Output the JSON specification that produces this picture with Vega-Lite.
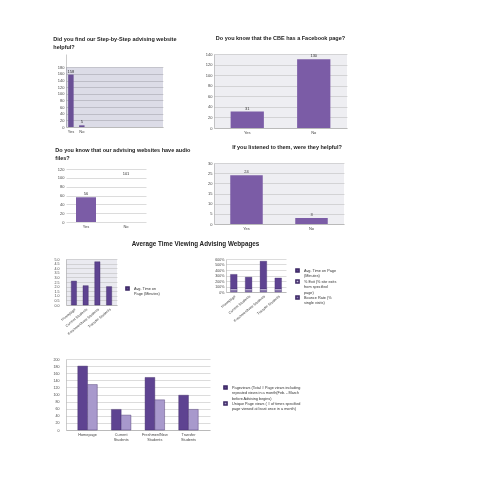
{
  "$schema": "https://vega.github.io/schema/vega-lite/v6.json",
  "background": "white",
  "padding": {"left": 53, "top": 35, "right": 5, "bottom": 5},
  "config": {
    "font": "Liberation Sans",
    "view": {"stroke": null},
    "axis": {"labelFontSize": 4, "labelColor": "#444", "ticks": false, "domainColor": "#999", "domainWidth": 0.5, "gridColor": "#b8b8b8", "gridWidth": 0.5, "labelPadding": 2},
    "title": {"fontSize": 5.5, "fontWeight": "bold", "color": "#222", "font": "Liberation Sans"},
    "legend": {"labelFontSize": 3.8, "symbolSize": 10, "symbolType": "square", "labelColor": "#333", "rowPadding": 0}
  },
  "spacing": 21,
  "vconcat": [
    {
      "spacing": 10,
      "vconcat": [
        {
          "spacing": 28,
          "hconcat": [
            {
              "width": 97, "height": 73,
              "title": {"text": ["Did you find our Step-by-Step advising website", "helpful?"], "anchor": "start", "frame": "bounds", "offset": 4, "dx": -4},
              "data": {"values": [{"answer": "Yes", "count": 158}, {"answer": "No", "count": 5}]},
              "resolve": {"axis": {"y": "independent"}},
              "layer": [
                {
                  "mark": {"type": "bar", "color": "#7b5ca6"},
                  "encoding": {
                    "x": {"field": "answer", "type": "nominal", "sort": null, "scale": {"domain": ["Yes", "No", "s3", "s4", "s5", "s6", "s7", "s8", "s9"], "paddingInner": 0.5, "paddingOuter": 0.2}, "axis": {"labelAngle": 0, "title": null, "labelExpr": "datum.label == 'Yes' || datum.label == 'No' ? datum.label : ''"}},
                    "y": {"field": "count", "type": "quantitative", "scale": {"domain": [0, 208.6]}, "axis": {"orient": "left", "values": [0, 20, 40, 60, 80, 100, 120, 140, 160, 180], "title": null}}
                  }
                },
                {
                  "mark": {"type": "text", "dy": -3, "fontSize": 4, "color": "#333"},
                  "encoding": {
                    "x": {"field": "answer", "type": "nominal", "sort": null},
                    "y": {"field": "count", "type": "quantitative", "axis": null},
                    "text": {"field": "count"}
                  }
                },
                {
                  "mark": {"type": "rect", "color": "#ededf3", "blend": "multiply"},
                  "encoding": {
                    "y": {"datum": 0, "type": "quantitative", "axis": null},
                    "y2": {"datum": 180}
                  }
                }
              ]
            },
            {
              "width": 133, "height": 74,
              "title": {"text": "Do you know that the CBE has a Facebook page?", "anchor": "middle", "offset": 11},
              "view": {"fill": "#eeeef2"},
              "data": {"values": [{"answer": "Yes", "count": 31}, {"answer": "No", "count": 130}]},
              "encoding": {
                "x": {"field": "answer", "type": "nominal", "sort": null, "scale": {"paddingInner": 0.5, "paddingOuter": 0.25}, "axis": {"labelAngle": 0, "title": null}},
                "y": {"field": "count", "type": "quantitative", "scale": {"domain": [0, 140]}, "axis": {"values": [0, 20, 40, 60, 80, 100, 120, 140], "title": null}}
              },
              "layer": [
                {"mark": {"type": "bar", "color": "#7b5ca6"}},
                {"mark": {"type": "text", "dy": -3, "fontSize": 4, "color": "#333"}, "encoding": {"text": {"field": "count"}}}
              ]
            }
          ]
        },
        {
          "spacing": 16,
          "hconcat": [
            {
              "width": 80, "height": 59,
              "title": {"text": ["Do you know that our advising websites have audio", "files?"], "anchor": "start", "frame": "bounds", "offset": 2, "dx": -2},
              "data": {"values": [{"answer": "Yes", "count": 56}, {"answer": "No", "count": 101}]},
              "encoding": {
                "x": {"field": "answer", "type": "nominal", "sort": null, "scale": {"paddingInner": 0.5, "paddingOuter": 0.25}, "axis": {"labelAngle": 0, "title": null, "domain": false}},
                "y": {"field": "count", "type": "quantitative", "scale": {"domain": [0, 133.6]}, "axis": {"values": [0, 20, 40, 60, 80, 100, 120], "title": null, "domain": false}}
              },
              "layer": [
                {"transform": [{"filter": "datum.answer == 'Yes'"}], "mark": {"type": "bar", "color": "#7b5ca6"}},
                {"mark": {"type": "text", "dy": -3, "fontSize": 4, "color": "#333"}, "encoding": {"text": {"field": "count"}}}
              ]
            },
            {
              "width": 130, "height": 61,
              "title": {"text": "If you listened to them, were they helpful?", "anchor": "middle", "offset": 11, "dx": 8},
              "view": {"fill": "#eeeef2"},
              "data": {"values": [{"answer": "Yes", "count": 24}, {"answer": "No", "count": 3}]},
              "encoding": {
                "x": {"field": "answer", "type": "nominal", "sort": null, "scale": {"paddingInner": 0.5, "paddingOuter": 0.25}, "axis": {"labelAngle": 0, "title": null}},
                "y": {"field": "count", "type": "quantitative", "scale": {"domain": [0, 30]}, "axis": {"values": [0, 5, 10, 15, 20, 25, 30], "title": null}}
              },
              "layer": [
                {"mark": {"type": "bar", "color": "#7b5ca6"}},
                {"mark": {"type": "text", "dy": -3, "fontSize": 4, "color": "#333"}, "encoding": {"text": {"field": "count"}}}
              ]
            }
          ]
        },
        {
          "title": {"text": "Average Time Viewing Advising Webpages", "fontSize": 6.3, "anchor": "middle", "offset": 10},
          "spacing": 54,
          "resolve": {"scale": {"color": "independent"}, "legend": {"color": "independent"}},
          "hconcat": [
            {
              "width": 51, "height": 46,
              "view": {"fill": "#eaeaf0"},
              "data": {"values": [
                {"page": "Homepage", "series": "Avg. Time on Page (Minutes)", "minutes": 2.6},
                {"page": "Current Students", "series": "Avg. Time on Page (Minutes)", "minutes": 2.1},
                {"page": "Freshmen/New Students", "series": "Avg. Time on Page (Minutes)", "minutes": 4.7},
                {"page": "Transfer Students", "series": "Avg. Time on Page (Minutes)", "minutes": 2.0}
              ]},
              "mark": {"type": "bar", "stroke": "#3e2a66", "strokeWidth": 0.4},
              "encoding": {
                "x": {"field": "page", "type": "nominal", "sort": null, "scale": {"paddingInner": 0.55, "paddingOuter": 0.45}, "axis": {"labelAngle": -40, "title": null, "labelFontSize": 3.6}},
                "y": {"field": "minutes", "type": "quantitative", "scale": {"domain": [0, 5]}, "axis": {"values": [0, 0.5, 1, 1.5, 2, 2.5, 3, 3.5, 4, 4.5, 5], "title": null, "labelFontSize": 3.6, "labelPadding": 7}},
                "color": {"field": "series", "type": "nominal", "scale": {"range": ["#5e4391"]}, "legend": {"title": null, "orient": "none", "legendX": 59, "legendY": 27, "labelExpr": "datum.label == 'Avg. Time on Page (Minutes)' ? ['Avg. Time on', 'Page (Minutes)'] : datum.label"}}
              }
            },
            {
              "width": 60, "height": 33,
              "data": {"values": [
                {"page": "Homepage", "series": "Avg. Time on Page (Minutes)", "ord": 3, "pct": 265},
                {"page": "Homepage", "series": "% Exit (% site exits from specified page)", "ord": 2, "pct": 30},
                {"page": "Homepage", "series": "Bounce Rate (% single visits)", "ord": 1, "pct": 25},
                {"page": "Current Students", "series": "Avg. Time on Page (Minutes)", "ord": 3, "pct": 215},
                {"page": "Current Students", "series": "% Exit (% site exits from specified page)", "ord": 2, "pct": 30},
                {"page": "Current Students", "series": "Bounce Rate (% single visits)", "ord": 1, "pct": 25},
                {"page": "Freshmen/New Students", "series": "Avg. Time on Page (Minutes)", "ord": 3, "pct": 505},
                {"page": "Freshmen/New Students", "series": "% Exit (% site exits from specified page)", "ord": 2, "pct": 30},
                {"page": "Freshmen/New Students", "series": "Bounce Rate (% single visits)", "ord": 1, "pct": 25},
                {"page": "Transfer Students", "series": "Avg. Time on Page (Minutes)", "ord": 3, "pct": 200},
                {"page": "Transfer Students", "series": "% Exit (% site exits from specified page)", "ord": 2, "pct": 30},
                {"page": "Transfer Students", "series": "Bounce Rate (% single visits)", "ord": 1, "pct": 25}
              ]},
              "mark": {"type": "bar", "stroke": "#3e2a66", "strokeWidth": 0.3},
              "encoding": {
                "x": {"field": "page", "type": "nominal", "sort": null, "scale": {"paddingInner": 0.55, "paddingOuter": 0.3}, "axis": {"labelAngle": -40, "title": null, "labelFontSize": 3.6}},
                "y": {"field": "pct", "type": "quantitative", "stack": "zero", "scale": {"domain": [0, 600]}, "axis": {"values": [0, 100, 200, 300, 400, 500, 600], "title": null, "labelFontSize": 3.6, "labelExpr": "datum.value + '%'"}},
                "order": {"field": "ord", "type": "quantitative"},
                "color": {"field": "series", "type": "nominal", "sort": null, "scale": {"domain": ["Avg. Time on Page (Minutes)", "% Exit (% site exits from specified page)", "Bounce Rate (% single visits)"], "range": ["#5e4391", "#c9bfe0", "#8a76b6"]}, "legend": {"title": null, "orient": "none", "legendX": 69, "legendY": 9, "rowPadding": -3, "labelExpr": "datum.label == 'Avg. Time on Page (Minutes)' ? ['Avg. Time on Page', '(Minutes)'] : datum.label == 'Bounce Rate (% single visits)' ? ['Bounce Rate (%', 'single visits)'] : ['% Exit (% site exits', 'from specified', 'page)']"}}
              }
            }
          ]
        }
      ]
    },
    {
      "width": 144, "height": 71,
      "data": {"values": [
        {"page": "Homepage", "series": "Pageviews", "views": 180},
        {"page": "Homepage", "series": "Unique Page views", "views": 128},
        {"page": "Current Students", "series": "Pageviews", "views": 58},
        {"page": "Current Students", "series": "Unique Page views", "views": 42},
        {"page": "Freshmen/New Students", "series": "Pageviews", "views": 148},
        {"page": "Freshmen/New Students", "series": "Unique Page views", "views": 85},
        {"page": "Transfer Students", "series": "Pageviews", "views": 98},
        {"page": "Transfer Students", "series": "Unique Page views", "views": 58}
      ]},
      "mark": {"type": "bar", "stroke": "#3e2a66", "strokeWidth": 0.4},
      "encoding": {
        "x": {"field": "page", "type": "nominal", "sort": null, "scale": {"paddingInner": 0.42, "paddingOuter": 0.35}, "axis": {"labelAngle": 0, "title": null, "labelFontSize": 3.8, "labelExpr": "datum.label == 'Homepage' ? 'Homepage' : datum.label == 'Current Students' ? ['Current', 'Students'] : datum.label == 'Freshmen/New Students' ? ['Freshmen/New', 'Students'] : ['Transfer', 'Students']"}},
        "xOffset": {"field": "series", "type": "nominal", "sort": null},
        "y": {"field": "views", "type": "quantitative", "scale": {"domain": [0, 200]}, "axis": {"values": [0, 20, 40, 60, 80, 100, 120, 140, 160, 180, 200], "title": null, "labelFontSize": 3.6, "labelPadding": 7}},
        "color": {"field": "series", "type": "nominal", "sort": null, "scale": {"domain": ["Pageviews", "Unique Page views"], "range": ["#5e4391", "#a899cc"]}, "legend": {"title": null, "orient": "none", "legendX": 157, "legendY": 26, "rowPadding": -6, "labelExpr": "datum.label == 'Pageviews' ? ['Pageviews (Total # Page views including', 'repeated views in a month(Feb. - March', 'before Advising begins)'] : ['Unique Page views ( # of times specified', 'page viewed at least once in a month)']"}}
      }
    }
  ],
  "resolve": {"scale": {"color": "independent"}, "legend": {"color": "independent"}}
}
